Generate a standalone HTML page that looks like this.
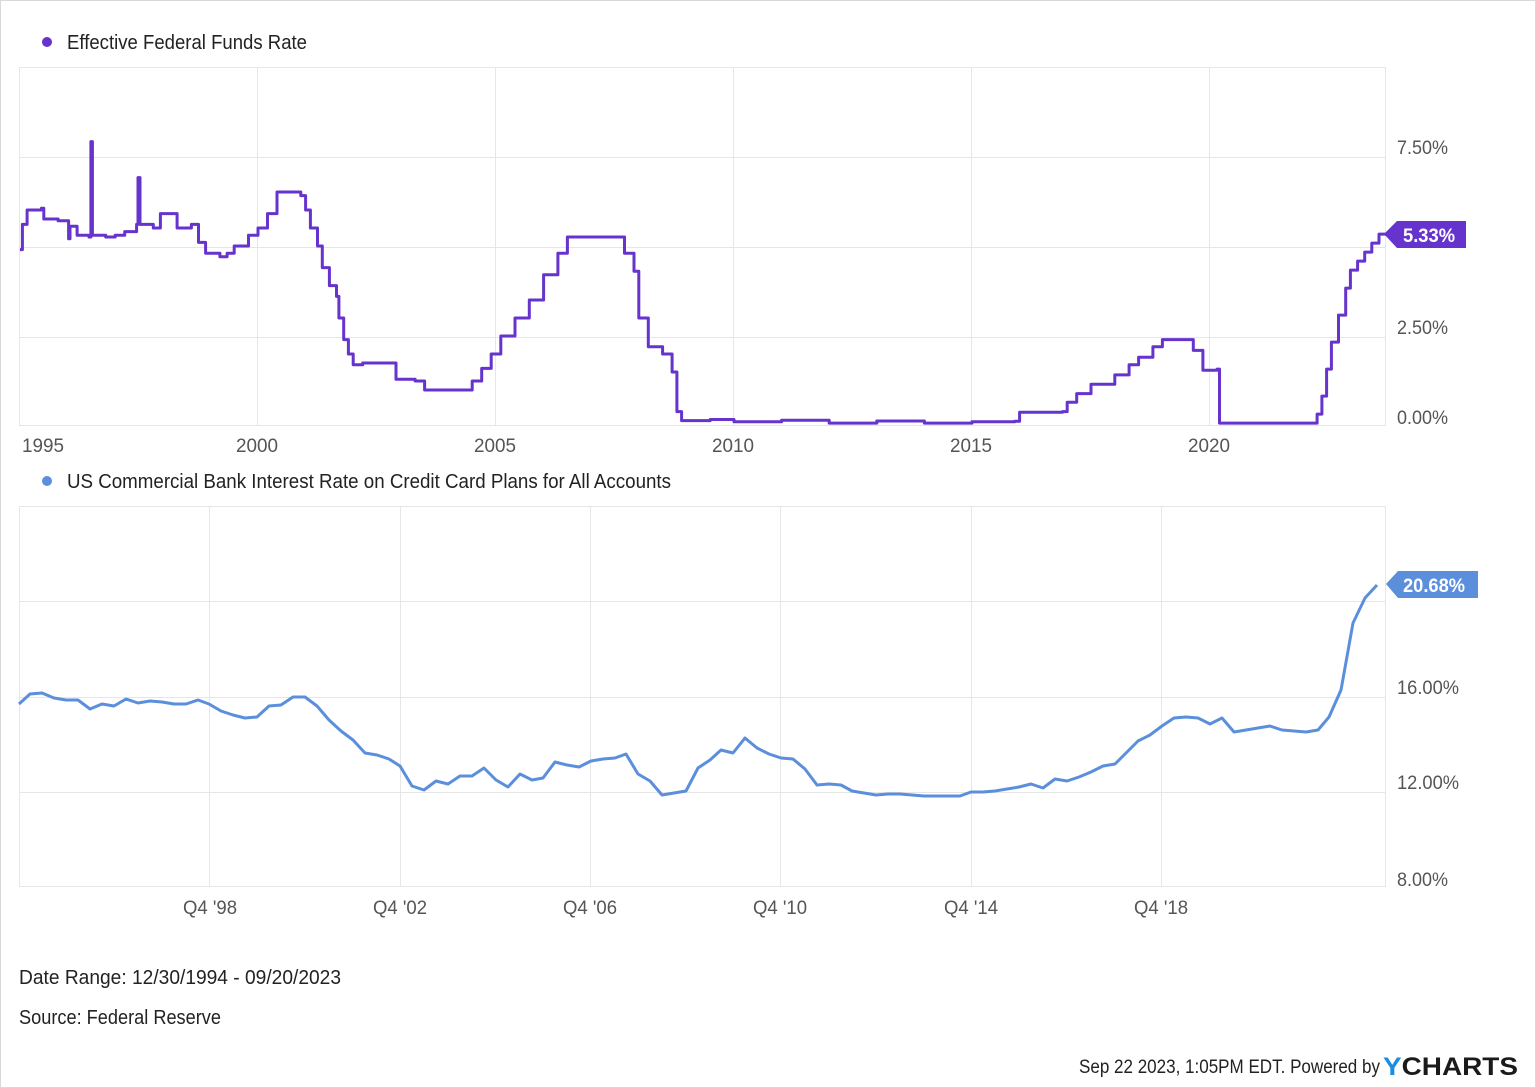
<!DOCTYPE html>
<html><head><meta charset="utf-8"><style>
html,body{margin:0;padding:0;background:#fff}
body{width:1536px;height:1088px;overflow:hidden;position:relative;font-family:"Liberation Sans",sans-serif}
svg{position:absolute;left:0;top:0}
</style></head><body>
<svg width="1536" height="1088" viewBox="0 0 1536 1088" font-family="Liberation Sans, sans-serif">
<rect x="0.5" y="0.5" width="1535" height="1087" fill="#fff" stroke="#d8d8d8"/>
<circle cx="47" cy="42" r="5" fill="#6633cc"/>
<text x="67" y="49" font-size="20" fill="#222" textLength="240" lengthAdjust="spacingAndGlyphs">Effective Federal Funds Rate</text>
<g stroke="#e6e6e6" stroke-width="1" fill="none">
<rect x="19.5" y="67.5" width="1366" height="358"/>
<line x1="19" y1="157.5" x2="1385" y2="157.5"/>
<line x1="19" y1="247.5" x2="1385" y2="247.5"/>
<line x1="19" y1="337.5" x2="1385" y2="337.5"/>
<line x1="257.5" y1="67" x2="257.5" y2="425"/>
<line x1="495.5" y1="67" x2="495.5" y2="425"/>
<line x1="733.5" y1="67" x2="733.5" y2="425"/>
<line x1="971.5" y1="67" x2="971.5" y2="425"/>
<line x1="1209.5" y1="67" x2="1209.5" y2="425"/>
</g>
<g font-size="19" fill="#555">
<text x="1397" y="154" textLength="51" lengthAdjust="spacingAndGlyphs">7.50%</text>
<text x="1397" y="334" textLength="51" lengthAdjust="spacingAndGlyphs">2.50%</text>
<text x="1397" y="424" textLength="51" lengthAdjust="spacingAndGlyphs">0.00%</text>
<text x="22" y="452" textLength="42" lengthAdjust="spacingAndGlyphs">1995</text>
<text x="236" y="452" textLength="42" lengthAdjust="spacingAndGlyphs">2000</text>
<text x="474" y="452" textLength="42" lengthAdjust="spacingAndGlyphs">2005</text>
<text x="712" y="452" textLength="42" lengthAdjust="spacingAndGlyphs">2010</text>
<text x="950" y="452" textLength="42" lengthAdjust="spacingAndGlyphs">2015</text>
<text x="1188" y="452" textLength="42" lengthAdjust="spacingAndGlyphs">2020</text>
</g>
<path id="ff" fill="none" stroke="#6633cc" stroke-width="3" stroke-linejoin="round"/>
<polygon points="1384,234 1397,221 1466,221 1466,248 1397,248" fill="#6633cc"/>
<text x="1403" y="242" font-size="19" font-weight="bold" fill="#fff" textLength="52" lengthAdjust="spacingAndGlyphs">5.33%</text>

<circle cx="47" cy="481" r="5" fill="#5b8fdb"/>
<text x="67" y="488" font-size="20" fill="#222" textLength="604" lengthAdjust="spacingAndGlyphs">US Commercial Bank Interest Rate on Credit Card Plans for All Accounts</text>
<g stroke="#e6e6e6" stroke-width="1" fill="none">
<rect x="19.5" y="506.5" width="1366" height="380"/>
<line x1="19" y1="601.5" x2="1385" y2="601.5"/>
<line x1="19" y1="697.5" x2="1385" y2="697.5"/>
<line x1="19" y1="792.5" x2="1385" y2="792.5"/>
<line x1="209.5" y1="506" x2="209.5" y2="886"/>
<line x1="400.5" y1="506" x2="400.5" y2="886"/>
<line x1="590.5" y1="506" x2="590.5" y2="886"/>
<line x1="780.5" y1="506" x2="780.5" y2="886"/>
<line x1="971.5" y1="506" x2="971.5" y2="886"/>
<line x1="1161.5" y1="506" x2="1161.5" y2="886"/>
</g>
<g font-size="19" fill="#555">
<text x="1397" y="694" textLength="62" lengthAdjust="spacingAndGlyphs">16.00%</text>
<text x="1397" y="789" textLength="62" lengthAdjust="spacingAndGlyphs">12.00%</text>
<text x="1397" y="886" textLength="51" lengthAdjust="spacingAndGlyphs">8.00%</text>
<text x="183" y="914" textLength="54" lengthAdjust="spacingAndGlyphs">Q4 '98</text>
<text x="373" y="914" textLength="54" lengthAdjust="spacingAndGlyphs">Q4 '02</text>
<text x="563" y="914" textLength="54" lengthAdjust="spacingAndGlyphs">Q4 '06</text>
<text x="753" y="914" textLength="54" lengthAdjust="spacingAndGlyphs">Q4 '10</text>
<text x="944" y="914" textLength="54" lengthAdjust="spacingAndGlyphs">Q4 '14</text>
<text x="1134" y="914" textLength="54" lengthAdjust="spacingAndGlyphs">Q4 '18</text>
</g>
<polyline fill="none" stroke="#5b8fdb" stroke-width="3" stroke-linejoin="round" points="19,704 30,694 42,693 54,698 66,700 78,700 90,709 102,704 114,706 126,699 138,703 150,701 162,702 174,704 186,704 198,700 209,704 221,711 233,715 245,718 257,717 269,706 281,705 293,697 305,697 317,706 329,720 341,731 353,740 365,753 377,755 389,759 400,766 412,786 424,790 436,781 448,784 460,776 472,776 484,768 496,780 508,787 520,774 532,780 543,778 555,762 567,765 579,767 591,761 603,759 615,758 626,754 638,774 650,781 662,795 674,793 686,791 698,768 710,760 721,750 733,753 745,738 757,748 769,754 781,758 793,759 805,769 817,785 829,784 841,785 852,791 864,793 876,795 888,794 900,794 912,795 924,796 936,796 948,796 960,796 971,792 983,792 995,791 1007,789 1019,787 1031,784 1043,788 1055,779 1067,781 1079,777 1091,772 1103,766 1115,764 1126,753 1138,741 1150,735 1162,726 1174,718 1186,717 1198,718 1210,724 1222,718 1234,732 1246,730 1258,728 1270,726 1282,730 1294,731 1306,732 1318,730 1329,717 1341,690 1353,623 1365,598 1377,585"/>
<polygon points="1386,584 1398,571 1478,571 1478,598 1398,598" fill="#5b8fdb"/>
<text x="1403" y="592" font-size="19" font-weight="bold" fill="#fff" textLength="62" lengthAdjust="spacingAndGlyphs">20.68%</text>

<g font-size="20" fill="#222">
<text x="19" y="984" textLength="322" lengthAdjust="spacingAndGlyphs">Date Range: 12/30/1994 - 09/20/2023</text>
<text x="19" y="1024" textLength="202" lengthAdjust="spacingAndGlyphs">Source: Federal Reserve</text>
<text x="1079" y="1073" font-size="19" textLength="301" lengthAdjust="spacingAndGlyphs">Sep 22 2023, 1:05PM EDT. Powered by</text>
</g>
<text x="1383" y="1075" font-size="25" font-weight="bold" fill="#1a1a1a" textLength="135" lengthAdjust="spacingAndGlyphs"><tspan fill="#1a8fe0">Y</tspan>CHARTS</text>
</svg>
<script>
var pts=[[1995.0,4.9],[1995.05,5.6],[1995.15,6.0],[1995.3,6.0],[1995.45,6.05],[1995.5,5.75],[1995.8,5.7],[1996.0,5.7],[1996.02,5.2],[1996.05,5.55],[1996.2,5.3],[1996.45,5.25],[1996.49,7.9],[1996.52,5.3],[1996.8,5.25],[1997.0,5.3],[1997.2,5.4],[1997.45,5.6],[1997.48,6.9],[1997.52,5.6],[1997.8,5.5],[1997.95,5.9],[1998.3,5.5],[1998.6,5.6],[1998.75,5.1],[1998.9,4.8],[1999.2,4.7],[1999.35,4.8],[1999.5,5.0],[1999.8,5.3],[2000.0,5.5],[2000.2,5.9],[2000.4,6.5],[2000.6,6.5],[2000.9,6.4],[2001.0,6.0],[2001.1,5.5],[2001.25,5.0],[2001.35,4.4],[2001.5,3.9],[2001.65,3.6],[2001.7,3.0],[2001.8,2.4],[2001.9,2.0],[2002.0,1.7],[2002.2,1.75],[2002.85,1.75],[2002.9,1.3],[2003.3,1.25],[2003.5,1.0],[2004.4,1.0],[2004.5,1.25],[2004.7,1.6],[2004.9,2.0],[2005.1,2.5],[2005.4,3.0],[2005.7,3.5],[2006.0,4.2],[2006.3,4.8],[2006.5,5.25],[2007.6,5.25],[2007.7,4.8],[2007.9,4.3],[2008.0,3.0],[2008.1,3.0],[2008.2,2.2],[2008.5,2.0],[2008.7,1.5],[2008.8,0.4],[2008.9,0.15],[2009.5,0.18],[2010.0,0.12],[2011.0,0.16],[2012.0,0.08],[2013.0,0.14],[2014.0,0.08],[2015.0,0.12],[2015.9,0.13],[2016.0,0.38],[2016.9,0.4],[2017.0,0.66],[2017.2,0.9],[2017.5,1.16],[2018.0,1.42],[2018.3,1.7],[2018.5,1.91],[2018.8,2.2],[2019.0,2.4],[2019.55,2.4],[2019.65,2.1],[2019.85,1.55],[2020.15,1.58],[2020.2,0.08],[2022.2,0.08],[2022.25,0.33],[2022.35,0.83],[2022.45,1.58],[2022.55,2.33],[2022.7,3.08],[2022.85,3.83],[2022.95,4.33],[2023.1,4.58],[2023.25,4.83],[2023.4,5.08],[2023.55,5.33],[2023.72,5.33]];
function X(y){return 20+(y-1995)*47.6}
function Y(v){return 426-v*36}
var d="";
for(var i=0;i<pts.length;i++){
 var p=pts[i];
 if(i>0){var q=pts[i-1];d+=" L"+X(p[0]).toFixed(1)+" "+Y(q[1]).toFixed(1);}
 d+=(i?" L":"M")+X(p[0]).toFixed(1)+" "+Y(p[1]).toFixed(1);
}
document.getElementById("ff").setAttribute("d",d);
</script>
</body></html>
